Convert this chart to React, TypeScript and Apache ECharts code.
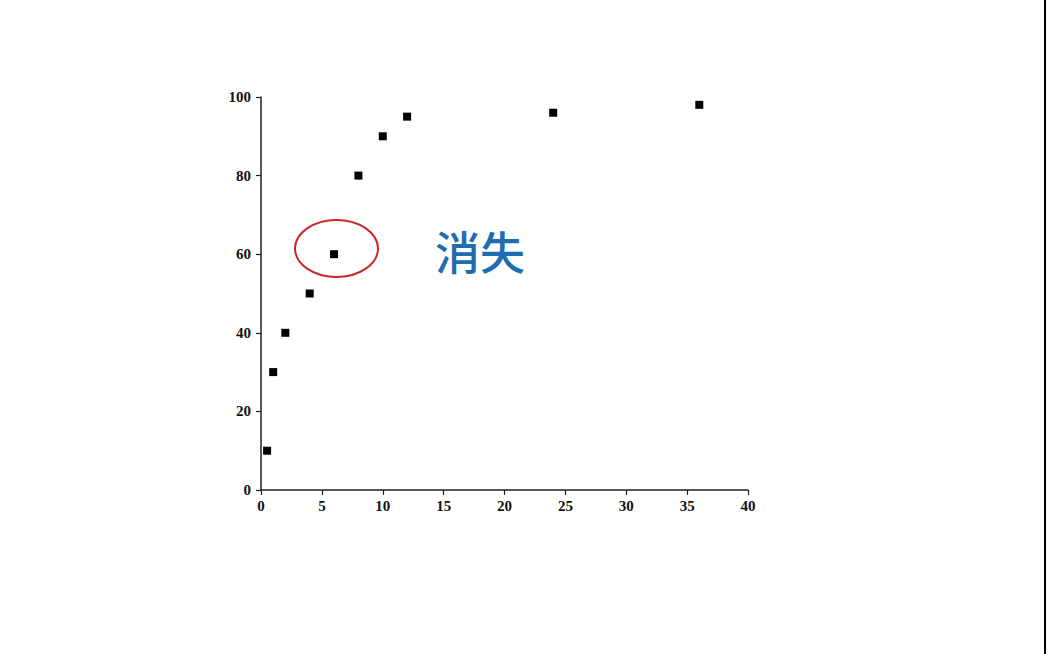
import React, { useEffect, useRef } from 'react';
import * as echarts from 'echarts';

// time (x) and percentage (y)
const xValues = [0.5, 1, 2, 4, 6, 8, 10, 12, 24, 36];
const yValues = [10, 30, 40, 50, 60, 80, 90, 95, 96, 98];
const annotationText = '消失';

const axisColor = '#222';
const labelFont = {
  color: '#111',
  fontFamily: '"Liberation Serif", "DejaVu Serif", serif',
  fontWeight: 'bold' as const,
  fontSize: 15,
};

const App: React.FC = () => {
  const chartRef = useRef<HTMLDivElement>(null);

  useEffect(() => {
    document.body.style.margin = '0';
    if (!chartRef.current) return;
    const chart = echarts.init(chartRef.current, undefined, { renderer: 'svg' });

    const points = xValues.map((x, i) => [x, yValues[i]]);

    const option: echarts.EChartsOption = {
      animation: false,
      backgroundColor: '#fff',
      grid: { left: 261, right: 299, top: 97, bottom: 164, containLabel: false },
      xAxis: {
        type: 'value',
        min: 0,
        max: 40,
        interval: 5,
        axisLine: { show: true, lineStyle: { color: axisColor, width: 1.5 } },
        axisTick: { show: true, length: 5, lineStyle: { color: axisColor, width: 1.2 } },
        axisLabel: { ...labelFont, margin: 8 },
        splitLine: { show: false },
      },
      yAxis: {
        type: 'value',
        min: 0,
        max: 100,
        interval: 20,
        axisLine: { show: true, lineStyle: { color: axisColor, width: 1.5 } },
        axisTick: { show: true, length: 5, lineStyle: { color: axisColor, width: 1.2 } },
        axisLabel: { ...labelFont, margin: 10 },
        splitLine: { show: false },
      },
      series: [
        {
          type: 'scatter',
          data: points,
          symbol: 'rect',
          symbolSize: 8,
          itemStyle: { color: '#000', opacity: 1 },
        },
      ],
      graphic: [
        {
          type: 'ellipse',
          shape: { cx: 336.5, cy: 248.5, rx: 41.5, ry: 28.5 },
          style: { fill: 'none', stroke: '#c8262b', lineWidth: 2 },
        },
        {
          type: 'text',
          x: 435,
          y: 228,
          style: {
            text: annotationText,
            fill: '#1f6db0',
            font: '500 45px "Noto Sans CJK SC"',
          },
        },
        {
          type: 'line',
          shape: { x1: 1045, y1: 0, x2: 1045, y2: 654 },
          style: { stroke: '#000', lineWidth: 2 },
        },
      ],
    };

    chart.setOption(option);
    return () => {
      chart.dispose();
    };
  }, []);

  return <div ref={chartRef} style={{ width: 1047, height: 654 }} />;
};

export default App;
